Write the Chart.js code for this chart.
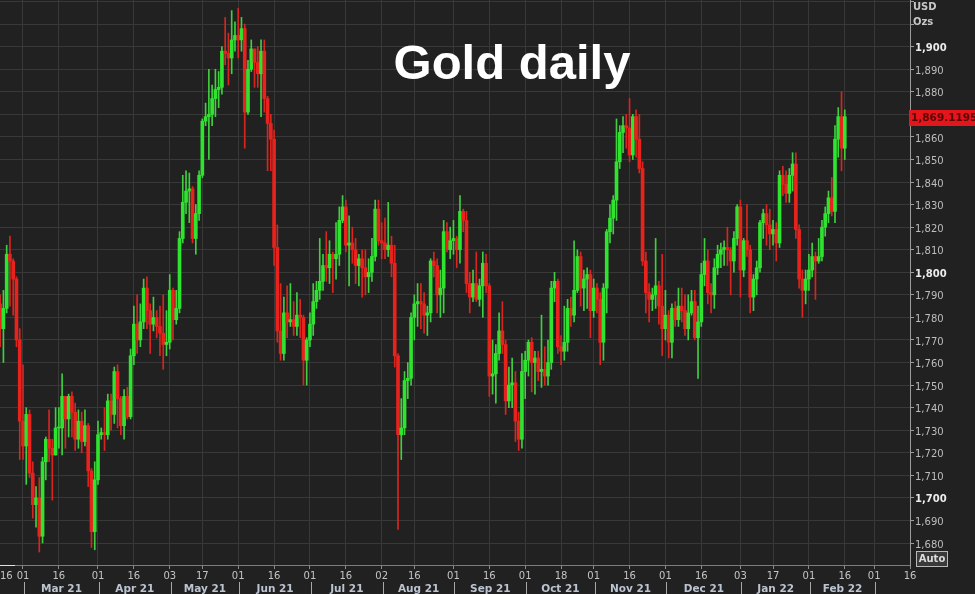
<!DOCTYPE html>
<html>
<head>
<meta charset="utf-8">
<script src="https://cdn.jsdelivr.net/npm/chart.js@4/dist/chart.umd.min.js"></script>
<style>
html,body{margin:0;padding:0;background:#212121;overflow:hidden;}
canvas{display:block;}
</style>
</head>
<body>
<canvas id="c" width="975" height="594"></canvas>
<script>
// trading-day index of the first candle (0 = 1 Mar 2021, weekdays only)
const firstIndex = -7;

const opens = [
1786,1775,1784,1808,1805,1797,1770,1734,1723,1737,
1711,1697,1700,1683,1716,1726,1722,1719,1731,1731,
1745,1735,1745,1738,1726,1734,1725,1732,1712,1685,
1708,1728,1729,1728,1743,1737,1756,1744,1732,1745,
1736,1763,1777,1770,1778,1793,1783,1777,1780,1776,
1773,1768,1769,1792,1779,1784,1815,1831,1836,1837,
1815,1826,1843,1867,1869,1870,1877,1881,1882,1898,
1897,1895,1903,1905,1903,1908,1871,1890,1899,1893,
1888,1898,1877,1866,1859,1811,1774,1764,1782,1778,
1779,1776,1781,1780,1761,1770,1777,1787,1792,1796,
1803,1802,1808,1806,1808,1823,1829,1812,1813,1810,
1803,1806,1802,1798,1800,1807,1828,1814,1813,1810,
1812,1804,1763,1728,1731,1752,1753,1780,1786,1787,
1786,1781,1782,1805,1803,1790,1793,1818,1810,1814,
1815,1810,1827,1823,1795,1789,1795,1788,1794,1804,
1794,1754,1755,1764,1774,1768,1743,1750,1751,1734,
1726,1756,1761,1769,1760,1762,1756,1757,1754,1760,
1793,1796,1767,1765,1769,1784,1781,1792,1807,1793,
1797,1799,1783,1793,1788,1769,1793,1818,1824,1832,
1849,1862,1865,1864,1852,1869,1859,1846,1805,1791,
1788,1790,1794,1785,1775,1781,1769,1784,1779,1785,
1783,1775,1782,1787,1771,1778,1799,1805,1791,1790,
1802,1808,1810,1811,1810,1805,1815,1829,1801,1814,
1810,1789,1797,1802,1822,1826,1821,1817,1819,1813,
1843,1839,1835,1843,1848,1819,1797,1792,1797,1801,
1807,1805,1807,1820,1826,1833,1827,1859,1869,1855];

const highs = [
1790,1792,1812,1816,1806,1798,1775,1759,1740,1739,
1716,1705,1709,1718,1727,1739,1726,1740,1740,1755,
1745,1746,1747,1742,1739,1738,1739,1733,1713,1716,
1734,1731,1740,1746,1746,1758,1759,1745,1748,1749,
1766,1785,1790,1786,1797,1798,1786,1789,1783,1785,
1790,1783,1799,1793,1792,1818,1843,1845,1844,1838,
1830,1845,1868,1875,1890,1883,1890,1889,1900,1913,
1906,1916,1911,1917,1913,1910,1894,1903,1899,1900,
1903,1903,1878,1870,1863,1821,1795,1789,1794,1795,
1787,1791,1788,1781,1771,1782,1795,1796,1815,1808,
1818,1814,1809,1822,1829,1834,1832,1825,1820,1815,
1808,1810,1810,1806,1815,1832,1832,1822,1824,1831,
1816,1812,1764,1744,1756,1760,1782,1790,1795,1795,
1791,1785,1806,1809,1806,1801,1823,1822,1820,1823,
1816,1834,1828,1827,1800,1801,1809,1797,1809,1808,
1795,1770,1768,1782,1787,1770,1758,1762,1756,1738,
1764,1765,1770,1771,1765,1765,1781,1767,1770,1796,
1800,1797,1772,1785,1788,1789,1814,1810,1809,1801,
1802,1801,1797,1795,1791,1795,1819,1830,1834,1868,
1865,1869,1870,1877,1870,1872,1870,1849,1809,1795,
1793,1815,1796,1808,1792,1783,1786,1787,1793,1793,
1790,1790,1792,1792,1785,1804,1815,1810,1795,1806,
1812,1813,1814,1820,1811,1818,1830,1832,1815,1830,
1812,1799,1805,1823,1828,1830,1828,1823,1822,1845,
1847,1845,1846,1853,1853,1821,1801,1801,1808,1813,
1809,1815,1823,1829,1836,1842,1865,1873,1880,1872];

const lows = [
1767,1760,1782,1785,1781,1767,1717,1717,1706,1709,
1691,1687,1676,1680,1708,1716,1699,1719,1722,1719,
1722,1727,1727,1721,1722,1720,1723,1705,1678,1677,
1706,1726,1721,1726,1730,1733,1731,1728,1726,1735,
1735,1759,1764,1767,1775,1775,1764,1774,1771,1763,
1757,1763,1766,1770,1777,1782,1813,1826,1822,1813,
1808,1823,1842,1865,1850,1865,1869,1873,1879,1892,
1883,1888,1898,1895,1898,1855,1870,1889,1882,1882,
1869,1871,1845,1845,1803,1769,1761,1761,1771,1776,
1772,1772,1771,1750,1750,1767,1772,1784,1788,1792,
1796,1795,1791,1797,1803,1822,1809,1794,1804,1795,
1794,1789,1790,1791,1796,1805,1812,1806,1806,1807,
1798,1758,1686,1717,1728,1744,1750,1770,1776,1775,
1773,1772,1778,1798,1782,1780,1782,1809,1806,1808,
1802,1804,1818,1791,1782,1787,1787,1785,1780,1791,
1745,1746,1742,1761,1764,1737,1740,1740,1725,1721,
1722,1744,1754,1747,1746,1752,1749,1750,1750,1757,
1787,1764,1759,1761,1765,1776,1778,1791,1785,1783,
1784,1771,1780,1782,1759,1761,1782,1813,1817,1823,
1846,1853,1855,1849,1850,1851,1844,1803,1782,1778,
1783,1784,1777,1763,1770,1762,1762,1776,1776,1778,
1772,1770,1781,1770,1753,1776,1794,1786,1782,1784,
1799,1802,1803,1803,1790,1800,1812,1789,1798,1807,
1782,1783,1790,1800,1815,1812,1810,1812,1805,1811,
1834,1831,1831,1836,1815,1793,1780,1786,1792,1798,
1788,1804,1805,1816,1822,1825,1822,1851,1845,1850];

const closes = [
1775,1784,1808,1805,1797,1770,1734,1723,1737,1711,
1697,1700,1683,1716,1726,1722,1719,1731,1731,1745,
1735,1745,1738,1726,1734,1725,1732,1712,1685,1708,
1728,1729,1728,1743,1737,1756,1744,1732,1745,1736,
1763,1777,1770,1778,1793,1783,1777,1780,1776,1773,
1768,1769,1792,1779,1784,1815,1831,1836,1837,1815,
1826,1843,1867,1869,1870,1877,1881,1882,1898,1897,
1895,1903,1905,1903,1908,1871,1890,1899,1893,1888,
1898,1877,1866,1859,1811,1774,1764,1782,1778,1779,
1776,1781,1780,1761,1770,1777,1787,1792,1796,1803,
1802,1808,1806,1808,1823,1829,1812,1813,1810,1803,
1806,1802,1798,1800,1807,1828,1814,1813,1810,1812,
1804,1763,1728,1731,1752,1753,1780,1786,1787,1786,
1781,1782,1805,1803,1790,1793,1818,1810,1814,1815,
1810,1827,1823,1795,1789,1795,1788,1794,1804,1794,
1754,1755,1764,1774,1768,1743,1750,1751,1734,1726,
1756,1761,1769,1760,1762,1756,1757,1754,1760,1793,
1796,1767,1765,1769,1784,1781,1792,1807,1793,1797,
1799,1783,1793,1788,1769,1793,1818,1824,1832,1849,
1862,1865,1864,1852,1869,1859,1846,1805,1791,1788,
1790,1794,1785,1775,1781,1769,1784,1779,1785,1783,
1775,1782,1787,1771,1778,1799,1805,1791,1790,1802,
1808,1810,1811,1810,1805,1815,1829,1801,1814,1810,
1789,1797,1802,1822,1826,1821,1817,1819,1813,1843,
1839,1835,1843,1848,1819,1797,1792,1797,1801,1807,
1805,1807,1820,1826,1833,1827,1859,1869,1855,1869];

// x-axis day ticks (trading-day index) and their labels
const dayTickIdx    = [-9, 0, 11, 23, 34, 45, 55, 66, 77, 88, 99, 110, 120, 132, 143, 154, 165, 175, 186, 197, 208, 220, 230, 241, 252, 261, 272];
const dayTickLabels = ['16','01','16','01','16','03','17','01','16','01','16','02','16','01','16','01','18','01','16','01','16','03','17','01','16','01','16'];
// month separators (first trading day) and month names between them
const monthStartIdx = [0, 23, 45, 66, 88, 110, 132, 154, 175, 197, 220, 241, 261];
const monthLabels   = ['Mar 21','Apr 21','May 21','Jun 21','Jul 21','Aug 21','Sep 21','Oct 21','Nov 21','Dec 21','Jan 22','Feb 22'];
// y-axis ticks
const yTickValues = [1680,1690,1700,1710,1720,1730,1740,1750,1760,1770,1780,1790,1800,1810,1820,1830,1840,1850,1860,1870,1880,1890,1900,1910,1920];
const lastPrice = 1869.1195;
const titleText = 'Gold daily';
const unitLines = ['USD', 'Ozs'];

const xMin = -7.05, xMax = 272;
const yMin = 1670.25, yMax = 1920.7;

const UP = '#2fe42f', DOWN = '#e8221c';
const UP_WICK = '#3fcf3f', DOWN_WICK = '#d8261f';

const candleX = opens.map((_, i) => firstIndex + i);
const isUp = closes.map((c, i) => c >= opens[i]);

const overlay = {
  id: 'overlay',
  beforeDraw(chart) {
    const c = chart.ctx;
    c.save();
    c.fillStyle = '#212121';
    c.fillRect(0, 0, chart.width, chart.height);
    c.restore();
  },
  afterDraw(chart) {
    const c = chart.ctx, xs = chart.scales.x, ys = chart.scales.y;
    const area = chart.chartArea;
    c.save();
    // title
    c.font = 'bold 49px "Liberation Sans", Arial, sans-serif';
    c.fillStyle = '#ffffff';
    c.textAlign = 'center';
    c.textBaseline = 'alphabetic';
    c.fillText(titleText, 512, 79);

    // month separators and labels
    c.strokeStyle = '#a8a8a8';
    c.lineWidth = 1;
    monthStartIdx.forEach(v => {
      const px = Math.round(xs.getPixelForValue(v)) + 1.5;
      c.beginPath(); c.moveTo(px, 582); c.lineTo(px, 594); c.stroke();
    });
    c.font = 'bold 10.5px "DejaVu Sans", sans-serif';
    c.fillStyle = '#bcc4d2';
    c.textAlign = 'center';
    c.textBaseline = 'middle';
    for (let i = 0; i < monthLabels.length; i++) {
      const a = xs.getPixelForValue(monthStartIdx[i]);
      const b = xs.getPixelForValue(monthStartIdx[i + 1]);
      c.fillText(monthLabels[i], (a + b) / 2 + 1, 589);
    }

    // first day label that sits left of the visible range
    c.font = '10px "DejaVu Sans", sans-serif';
    c.fillStyle = '#c4c4c4';
    c.textAlign = 'left';
    c.textBaseline = 'top';
    dayTickIdx.forEach((v, i) => { if (v < xMin) c.fillText(dayTickLabels[i], 0, area.bottom + 6); });

    // scroll marker
    c.strokeStyle = '#e0e0e0';
    c.beginPath(); c.moveTo(0, area.bottom + 0.5); c.lineTo(15, area.bottom + 0.5); c.stroke();

    // unit labels
    c.font = 'bold 10px "DejaVu Sans", sans-serif';
    c.fillStyle = '#c8c8c8';
    c.textAlign = 'left';
    c.textBaseline = 'middle';
    c.fillText(unitLines[0], area.right + 3, 7);
    c.fillText(unitLines[1], area.right + 3, 22);

    // last price tag
    const py = ys.getPixelForValue(lastPrice) + 1.5;
    c.fillStyle = '#e3161b';
    c.fillRect(area.right - 1, Math.round(py) - 8, chart.width - area.right + 1, 16);
    c.font = 'bold 10.5px "DejaVu Sans", sans-serif';
    c.fillStyle = '#5c0505';
    c.textBaseline = 'middle';
    c.fillText(lastPrice.toLocaleString('en-US', {minimumFractionDigits: 4}), area.right + 1, py);

    // Auto button
    c.fillStyle = '#3a3a3a';
    c.fillRect(916, 551, 31, 15);
    c.strokeStyle = '#b8b8b8';
    c.strokeRect(916.5, 551.5, 31, 15);
    c.font = 'bold 10px "DejaVu Sans", sans-serif';
    c.fillStyle = '#dcdcdc';
    c.textAlign = 'center';
    c.fillText('Auto', 932, 559.5);
    c.restore();
  }
};

new Chart(document.getElementById('c'), {
  type: 'bar',
  data: {
    datasets: [
      {
        label: 'range',
        data: candleX.map((x, i) => ({ x, y: [lows[i], highs[i]] })),
        backgroundColor: isUp.map(u => u ? UP_WICK : DOWN_WICK),
        barThickness: 1,
        grouped: false,
        order: 2
      },
      {
        label: 'body',
        data: candleX.map((x, i) => ({ x, y: [opens[i], closes[i]] })),
        backgroundColor: isUp.map(u => u ? UP : DOWN),
        barThickness: 3,
        minBarLength: 1,
        grouped: false,
        order: 1
      }
    ]
  },
  options: {
    responsive: false,
    animation: false,
    devicePixelRatio: 1,
    layout: { padding: 0 },
    plugins: { legend: { display: false }, tooltip: { enabled: false }, title: { display: false } },
    scales: {
      x: {
        type: 'linear',
        min: xMin, max: xMax,
        offset: false,
        afterBuildTicks: s => { s.ticks = dayTickIdx.filter(v => v >= xMin && v <= xMax).map(v => ({ value: v })); },
        afterFit: s => { s.height = 29; s.paddingLeft = 0; s.paddingRight = 0; },
        grid: { color: '#383838', offset: false, drawTicks: true, tickLength: 4, tickColor: '#8c8c8c' },
        border: { display: true, color: '#7c7c7c' },
        ticks: {
          autoSkip: false, maxRotation: 0, minRotation: 0, padding: 1,
          color: '#c4c4c4',
          font: { family: 'DejaVu Sans', size: 10 },
          callback: v => { const k = dayTickIdx.indexOf(v); return k >= 0 ? dayTickLabels[k] : ''; }
        }
      },
      y: {
        position: 'right',
        min: yMin, max: yMax,
        afterBuildTicks: s => { s.ticks = yTickValues.map(v => ({ value: v })); },
        afterFit: s => { s.width = 65; s.paddingTop = 0; s.paddingBottom = 0; },
        grid: { color: '#383838', drawTicks: true, tickLength: 4, tickColor: '#9c9c9c' },
        border: { display: true, color: '#9c9c9c' },
        ticks: {
          crossAlign: 'near', padding: 1, labelOffset: 2,
          color: c => (c.tick && c.tick.value % 100 === 0) ? '#ebebeb' : '#bdbdbd',
          font: c => ({ family: 'DejaVu Sans', size: 10, weight: (c.tick && c.tick.value % 100 === 0) ? 'bold' : 'normal' }),
          callback: v => v > 1900 ? '' : v.toLocaleString('en-US')
        }
      }
    }
  },
  plugins: [overlay]
});
</script>
</body>
</html>
